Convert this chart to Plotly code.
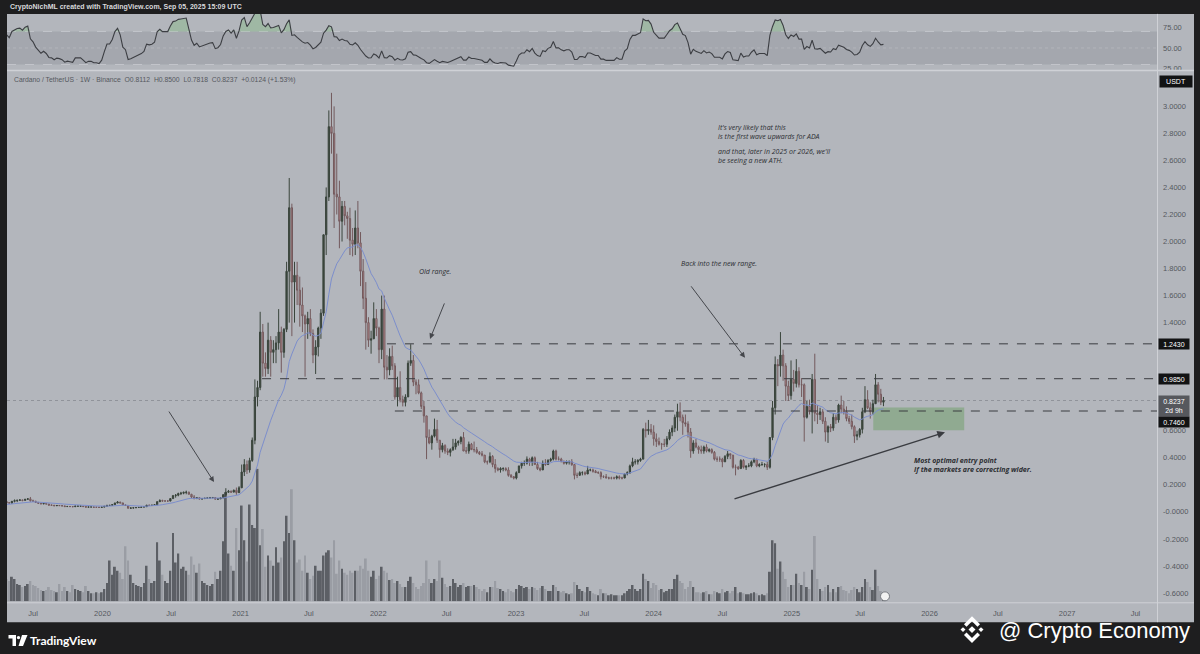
import numpy as np
import pandas as pd
import plotly.graph_objects as go

W, H = 1200, 654
def px(x): return x / W
def py(y): return 1 - y / H

# ---------------- weekly ADA/USDT data ----------------
first_open = 0.0375
close_2018 = [0.0300, 0.0300, 0.0430, 0.0410, 0.0440]
high_2018 = [0.0385, 0.0310, 0.0460, 0.0480, 0.0470]
low_2018 = [0.0290, 0.0270, 0.0295, 0.0390, 0.0400]
vol_2018 = [22, 25, 28, 20, 18]

close_2019 = [0.041, 0.043, 0.041, 0.039, 0.041, 0.043, 0.044, 0.046, 0.049, 0.050, 0.060, 0.072,
              0.085, 0.080, 0.076, 0.068, 0.065, 0.078, 0.083, 0.086, 0.087, 0.085, 0.093, 0.096, 0.082,
              0.078, 0.070, 0.064, 0.059, 0.062, 0.058, 0.050, 0.049, 0.045, 0.047, 0.046, 0.044, 0.039, 0.040,
              0.039, 0.038, 0.042, 0.042, 0.042, 0.039, 0.035, 0.036, 0.036, 0.034, 0.034, 0.033, 0.035]
high_2019 = [0.048, 0.044, 0.044, 0.042, 0.042, 0.044, 0.050, 0.047, 0.050, 0.052, 0.062, 0.076,
             0.095, 0.092, 0.083, 0.078, 0.070, 0.080, 0.092, 0.088, 0.095, 0.090, 0.095, 0.100, 0.110,
             0.090, 0.082, 0.072, 0.066, 0.064, 0.066, 0.059, 0.053, 0.050, 0.049, 0.048, 0.049, 0.045, 0.041,
             0.042, 0.040, 0.046, 0.044, 0.045, 0.043, 0.040, 0.037, 0.038, 0.037, 0.036, 0.036, 0.036]
low_2019 = [0.039, 0.040, 0.040, 0.037, 0.036, 0.040, 0.042, 0.041, 0.043, 0.047, 0.049, 0.058,
            0.070, 0.078, 0.075, 0.062, 0.063, 0.060, 0.070, 0.072, 0.083, 0.078, 0.082, 0.090, 0.075,
            0.073, 0.066, 0.058, 0.058, 0.056, 0.056, 0.045, 0.047, 0.043, 0.044, 0.044, 0.042, 0.036, 0.037,
            0.037, 0.037, 0.036, 0.040, 0.041, 0.038, 0.033, 0.032, 0.035, 0.033, 0.031, 0.032, 0.032]
vol_2019 = [16, 14, 12, 14, 15, 14, 20, 16, 15, 14, 20, 30,
            36, 24, 18, 22, 20, 24, 22, 17, 16, 14, 15, 17, 20,
            16, 15, 13, 11, 10, 11, 14, 11, 10, 9, 17, 10, 14, 10,
            9, 16, 12, 11, 10, 9, 15, 10, 8, 8, 9, 8, 9]

close_2020 = [0.041, 0.048, 0.048, 0.053, 0.065, 0.072, 0.066, 0.051, 0.047, 0.027, 0.028, 0.030, 0.032,
              0.033, 0.035, 0.038, 0.049, 0.048, 0.049, 0.052, 0.075, 0.083, 0.080, 0.080, 0.080, 0.098,
              0.120, 0.123, 0.135, 0.138, 0.144, 0.145, 0.130, 0.110, 0.098, 0.104, 0.095, 0.098, 0.100,
              0.103, 0.105, 0.106, 0.094, 0.096, 0.103, 0.127, 0.145, 0.152, 0.146, 0.160, 0.142, 0.178]
high_2020 = [0.042, 0.050, 0.049, 0.056, 0.068, 0.080, 0.075, 0.067, 0.056, 0.048, 0.034, 0.032, 0.034,
             0.036, 0.038, 0.040, 0.052, 0.052, 0.051, 0.058, 0.078, 0.093, 0.090, 0.086, 0.084, 0.100,
             0.125, 0.132, 0.142, 0.148, 0.150, 0.157, 0.150, 0.133, 0.124, 0.109, 0.108, 0.100, 0.105,
             0.105, 0.110, 0.110, 0.107, 0.100, 0.108, 0.130, 0.175, 0.162, 0.158, 0.165, 0.180, 0.190]
low_2020 = [0.034, 0.040, 0.043, 0.046, 0.052, 0.064, 0.063, 0.050, 0.046, 0.023, 0.025, 0.027, 0.028,
            0.031, 0.032, 0.034, 0.037, 0.044, 0.044, 0.048, 0.050, 0.074, 0.077, 0.078, 0.076, 0.078,
            0.096, 0.105, 0.115, 0.124, 0.130, 0.130, 0.128, 0.100, 0.093, 0.095, 0.093, 0.090, 0.095,
            0.098, 0.098, 0.100, 0.090, 0.090, 0.095, 0.102, 0.114, 0.140, 0.140, 0.144, 0.126, 0.140]
vol_2020 = [12, 18, 40, 26, 34, 30, 28, 22, 54, 40, 26, 18, 16,
            15, 14, 18, 35, 22, 18, 20, 58, 40, 26, 20, 18, 30,
            67, 38, 47, 32, 34, 30, 26, 44, 36, 28, 37, 20, 18,
            16, 15, 17, 29, 22, 30, 59, 107, 47, 35, 30, 72, 50]

close_2021 = [0.295, 0.350, 0.310, 0.380, 0.530, 0.850, 0.920, 1.330, 1.100, 1.060, 1.270, 1.180, 1.200,
              1.250, 1.330, 1.180, 1.350, 1.780, 2.250, 1.700, 1.750, 1.640, 1.530, 1.450, 1.390, 1.430,
              1.320, 1.160, 1.220, 1.360, 1.470, 2.050, 2.330, 2.850, 2.800, 2.350, 2.330, 2.150, 2.260,
              2.190, 2.170, 2.010, 1.980, 2.100, 1.990, 1.780, 1.580, 1.400, 1.270, 1.280, 1.430, 1.360]
high_2021 = [0.350, 0.390, 0.380, 0.400, 0.550, 0.980, 0.970, 1.480, 1.390, 1.180, 1.400, 1.300, 1.270,
             1.300, 1.500, 1.370, 1.360, 1.850, 2.470, 2.280, 1.850, 1.850, 1.740, 1.660, 1.460, 1.480,
             1.500, 1.350, 1.270, 1.370, 1.500, 2.050, 2.400, 2.970, 3.100, 3.000, 2.650, 2.450, 2.300,
             2.300, 2.220, 2.250, 2.100, 2.230, 2.300, 2.070, 1.870, 1.700, 1.440, 1.340, 1.550, 1.500]
low_2021 = [0.176, 0.265, 0.280, 0.290, 0.370, 0.500, 0.780, 0.900, 1.000, 1.000, 1.020, 1.000, 1.100,
            1.100, 1.200, 1.030, 1.140, 1.330, 1.400, 1.300, 1.400, 1.530, 1.370, 1.330, 1.000, 1.280,
            1.300, 1.100, 1.020, 1.150, 1.280, 1.450, 1.900, 2.300, 2.650, 2.100, 2.200, 1.950, 2.000,
            2.120, 2.020, 1.900, 1.890, 1.900, 1.950, 1.670, 1.500, 1.200, 1.220, 1.170, 1.280, 1.300]
vol_2021 = [94, 60, 39, 95, 75, 72, 130, 55, 71, 34, 45, 40, 35,
            53, 38, 43, 59, 84, 67, 110, 60, 38, 41, 30, 45, 28,
            22, 25, 35, 30, 30, 45, 48, 50, 43, 60, 27, 40, 32,
            28, 26, 30, 28, 30, 30, 35, 32, 42, 30, 24, 30, 22]

close_2022 = [1.200, 1.500, 1.070, 1.050, 1.150, 1.080, 0.850, 0.920, 0.830, 0.810, 0.850, 1.100, 1.120,
              0.960, 0.940, 0.880, 0.780, 0.710, 0.550, 0.510, 0.560, 0.610, 0.530, 0.460, 0.490, 0.450,
              0.440, 0.460, 0.480, 0.510, 0.520, 0.550, 0.450, 0.450, 0.500, 0.460, 0.460, 0.440, 0.430,
              0.420, 0.370, 0.370, 0.410, 0.350, 0.320, 0.310, 0.320, 0.320, 0.310, 0.270, 0.260, 0.250]
high_2022 = [1.370, 1.600, 1.600, 1.160, 1.210, 1.230, 1.100, 1.000, 1.040, 0.860, 0.870, 1.120, 1.240,
             1.160, 0.980, 0.980, 0.890, 0.820, 0.710, 0.610, 0.570, 0.690, 0.680, 0.530, 0.510, 0.500,
             0.470, 0.470, 0.540, 0.540, 0.530, 0.560, 0.590, 0.480, 0.520, 0.510, 0.520, 0.480, 0.450,
             0.450, 0.420, 0.380, 0.440, 0.420, 0.390, 0.330, 0.330, 0.330, 0.330, 0.330, 0.280, 0.265]
low_2022 = [1.100, 1.130, 0.980, 0.980, 1.010, 1.050, 0.830, 0.780, 0.810, 0.780, 0.780, 0.850, 1.080,
            0.930, 0.870, 0.870, 0.760, 0.660, 0.390, 0.500, 0.460, 0.550, 0.510, 0.400, 0.440, 0.430,
            0.420, 0.410, 0.450, 0.460, 0.490, 0.500, 0.450, 0.430, 0.430, 0.460, 0.440, 0.430, 0.420,
            0.410, 0.360, 0.350, 0.360, 0.330, 0.290, 0.300, 0.290, 0.300, 0.300, 0.260, 0.250, 0.240]
vol_2022 = [25, 34, 30, 28, 21, 22, 18, 20, 17, 14, 14, 20, 24,
            18, 14, 12, 15, 18, 40, 22, 18, 22, 20, 40, 23, 17,
            14, 15, 22, 18, 14, 16, 18, 14, 15, 15, 16, 14, 12,
            10, 12, 9, 14, 14, 20, 13, 12, 10, 9, 12, 10, 9]

close_2023 = [0.290, 0.340, 0.360, 0.360, 0.390, 0.370, 0.400, 0.350, 0.320, 0.310, 0.360, 0.350, 0.380,
              0.390, 0.450, 0.390, 0.390, 0.370, 0.360, 0.370, 0.370, 0.350, 0.270, 0.270, 0.290, 0.290,
              0.280, 0.310, 0.310, 0.300, 0.290, 0.290, 0.260, 0.260, 0.250, 0.250, 0.250, 0.250, 0.260,
              0.250, 0.250, 0.280, 0.290, 0.340, 0.370, 0.370, 0.380, 0.390, 0.610, 0.600, 0.610, 0.590]
high_2023 = [0.300, 0.340, 0.370, 0.380, 0.410, 0.400, 0.410, 0.410, 0.370, 0.330, 0.380, 0.390, 0.390,
             0.400, 0.460, 0.460, 0.410, 0.400, 0.380, 0.380, 0.380, 0.390, 0.350, 0.290, 0.300, 0.300,
             0.300, 0.340, 0.320, 0.320, 0.310, 0.300, 0.300, 0.270, 0.280, 0.260, 0.260, 0.260, 0.270,
             0.270, 0.260, 0.280, 0.300, 0.350, 0.400, 0.390, 0.390, 0.400, 0.620, 0.660, 0.680, 0.650]
low_2023 = [0.240, 0.290, 0.320, 0.340, 0.350, 0.340, 0.340, 0.350, 0.310, 0.300, 0.310, 0.340, 0.350,
            0.370, 0.380, 0.380, 0.380, 0.370, 0.350, 0.350, 0.350, 0.340, 0.240, 0.250, 0.270, 0.270,
            0.270, 0.280, 0.300, 0.290, 0.290, 0.280, 0.240, 0.250, 0.250, 0.240, 0.240, 0.240, 0.240,
            0.240, 0.240, 0.250, 0.270, 0.280, 0.330, 0.350, 0.350, 0.370, 0.390, 0.550, 0.570, 0.570]
vol_2023 = [12, 16, 15, 13, 14, 12, 14, 13, 11, 13, 15, 12, 10,
            10, 16, 14, 10, 9, 10, 8, 7, 8, 19, 16, 12, 10,
            9, 14, 10, 8, 7, 6, 12, 8, 8, 6, 7, 6, 6,
            6, 6, 8, 10, 12, 16, 12, 10, 12, 27, 22, 20, 13]

close_2024 = [0.540, 0.520, 0.500, 0.500, 0.500, 0.540, 0.590, 0.620, 0.700, 0.740, 0.700, 0.660, 0.650,
              0.590, 0.450, 0.510, 0.480, 0.460, 0.450, 0.480, 0.450, 0.460, 0.440, 0.390, 0.390, 0.390,
              0.370, 0.410, 0.430, 0.420, 0.330, 0.330, 0.320, 0.380, 0.330, 0.340, 0.340, 0.370, 0.390, 0.340,
              0.350, 0.350, 0.350, 0.330, 0.550, 0.770, 1.090, 1.080, 1.160, 1.080, 0.930, 0.860, 0.980]
high_2024 = [0.640, 0.580, 0.550, 0.510, 0.540, 0.560, 0.610, 0.640, 0.720, 0.800, 0.810, 0.720, 0.720,
             0.670, 0.620, 0.530, 0.540, 0.490, 0.490, 0.490, 0.500, 0.470, 0.470, 0.450, 0.410, 0.410,
             0.400, 0.420, 0.450, 0.430, 0.420, 0.350, 0.340, 0.390, 0.390, 0.340, 0.360, 0.380, 0.400, 0.390,
             0.360, 0.370, 0.360, 0.370, 0.550, 0.820, 1.150, 1.130, 1.330, 1.200, 1.100, 0.970, 1.120]
low_2024 = [0.490, 0.480, 0.490, 0.460, 0.480, 0.480, 0.530, 0.560, 0.590, 0.600, 0.670, 0.570, 0.630,
            0.550, 0.400, 0.430, 0.470, 0.430, 0.430, 0.430, 0.440, 0.440, 0.430, 0.380, 0.370, 0.370,
            0.330, 0.370, 0.390, 0.390, 0.320, 0.270, 0.310, 0.320, 0.320, 0.310, 0.330, 0.330, 0.360, 0.330,
            0.330, 0.340, 0.330, 0.310, 0.320, 0.530, 0.720, 0.930, 1.000, 0.970, 0.820, 0.820, 0.830]
vol_2024 = [18, 16, 11, 12, 9, 10, 12, 12, 22, 26, 20, 18, 12,
            14, 20, 14, 9, 9, 8, 9, 10, 7, 7, 10, 9, 8,
            12, 9, 10, 8, 10, 14, 8, 9, 8, 7, 7, 8, 9, 8,
            6, 7, 6, 8, 29, 60, 57, 32, 39, 29, 22, 14, 16]

close_2025 = [0.950, 1.040, 0.940, 0.940, 0.700, 0.780, 0.740, 0.980, 0.730, 0.720, 0.740, 0.670, 0.590,
              0.630, 0.620, 0.700, 0.680, 0.790, 0.760, 0.740, 0.690, 0.670, 0.630, 0.560, 0.570, 0.610,
              0.740, 0.830, 0.770, 0.740, 0.800, 0.940, 0.870, 0.8112, 0.8237]
high_2025 = [1.050, 1.130, 1.070, 0.990, 0.950, 0.820, 0.830, 1.020, 1.170, 0.790, 0.770, 0.760, 0.700,
             0.640, 0.650, 0.730, 0.720, 0.800, 0.860, 0.820, 0.780, 0.710, 0.720, 0.640, 0.600, 0.620,
             0.770, 0.930, 0.900, 0.810, 0.830, 1.020, 0.960, 0.910, 0.8500]
low_2025 = [0.890, 0.920, 0.920, 0.850, 0.520, 0.690, 0.720, 0.580, 0.670, 0.650, 0.680, 0.650, 0.520,
            0.510, 0.590, 0.600, 0.650, 0.660, 0.730, 0.720, 0.670, 0.650, 0.610, 0.510, 0.530, 0.550,
            0.580, 0.730, 0.760, 0.690, 0.720, 0.800, 0.810, 0.790, 0.7818]
vol_2025 = [16, 27, 18, 16, 29, 14, 12, 31, 64, 22, 12, 10, 14,
            16, 9, 12, 9, 14, 15, 11, 10, 8, 11, 14, 12, 9,
            14, 22, 19, 14, 11, 31, 15, 10, 3]

time_tick_dates = ['2019-07-01', '2020-01-01', '2020-07-01', '2021-01-01', '2021-07-01', '2022-01-01',
                   '2022-07-01', '2023-01-01', '2023-07-01', '2024-01-01', '2024-07-01', '2025-01-01',
                   '2025-07-01', '2026-01-01', '2026-07-01', '2027-01-01', '2027-07-01']
time_tick_text = ['Jul', '2020', 'Jul', '2021', 'Jul', '2022', 'Jul', '2023', 'Jul', '2024', 'Jul',
                  '2025', 'Jul', '2026', 'Jul', '2027', 'Jul']
price_tick_vals = [3.0, 2.8, 2.6, 2.4, 2.2, 2.0, 1.8, 1.6, 1.4, 0.6, 0.4, 0.2, 0.0, -0.2, -0.4, -0.6]
price_tick_text = ['3.0000', '2.8000', '2.6000', '2.4000', '2.2000', '2.0000', '1.8000', '1.6000',
                   '1.4000', '0.6000', '0.4000', '0.2000', '-0.0000', '-0.2000', '-0.4000', '-0.6000']
rsi_tick_vals = [75, 50, 25]
rsi_tick_text = ['75.00', '50.00', '25.00']

levels = {'upper': 1.2430, 'mid': 0.9850, 'low': 0.7460, 'last': 0.8237}
entry_zone = (0.603, 0.772)

# ---------------- assemble ----------------
closes = close_2018 + close_2019 + close_2020 + close_2021 + close_2022 + close_2023 + close_2024 + close_2025
highs = high_2018 + high_2019 + high_2020 + high_2021 + high_2022 + high_2023 + high_2024 + high_2025
lows = low_2018 + low_2019 + low_2020 + low_2021 + low_2022 + low_2023 + low_2024 + low_2025
vols = vol_2018 + vol_2019 + vol_2020 + vol_2021 + vol_2022 + vol_2023 + vol_2024 + vol_2025
vols = [v * 100 for v in vols]  # millions of ADA
n = len(closes)
dates = pd.date_range(end='2025-09-01', periods=n, freq='W-MON')
opens = [first_open] + closes[:-1]

cs = pd.Series(closes)
ma20 = cs.ewm(span=20, adjust=False).mean()
d = cs.diff()
ag = d.clip(lower=0).ewm(alpha=1/14, adjust=False).mean()
al = (-d).clip(lower=0).ewm(alpha=1/14, adjust=False).mean()
rsi = 100 - 100 / (1 + ag / al)

vol_colors = ['#5c5f65' if c >= o else '#9a9da4' for o, c in zip(opens, closes)]

BG = '#b3b6bc'
DARK = '#1e1e1f'
TXT = '#55585e'
FONT = 'Liberation Sans'

fig = go.Figure()
fig.add_trace(go.Bar(x=dates, y=vols, marker=dict(color=vol_colors, line=dict(width=0)),
                     width=[7 * 24 * 3600 * 1000 * 0.7] * n, xaxis='x', yaxis='y', hoverinfo='skip'))
fig.add_trace(go.Candlestick(x=dates, open=opens, high=highs, low=lows, close=closes,
                             increasing=dict(line=dict(color='#3a453c', width=1), fillcolor='#3a453c'),
                             decreasing=dict(line=dict(color='#735a5d', width=1), fillcolor='#c28e92'),
                             whiskerwidth=0, xaxis='x', yaxis='y2'))
fig.add_trace(go.Scatter(x=dates, y=ma20, mode='lines', line=dict(color='#7c8ecc', width=1),
                         xaxis='x', yaxis='y2', hoverinfo='skip'))
# RSI
fig.add_trace(go.Scatter(x=dates, y=[70] * n, mode='lines', line=dict(width=0), xaxis='x', yaxis='y3',
                         hoverinfo='skip'))
fig.add_trace(go.Scatter(x=dates, y=np.maximum(rsi, 70), mode='lines', line=dict(width=0), fill='tonexty',
                         fillcolor='rgba(130,188,130,0.42)', xaxis='x', yaxis='y3', hoverinfo='skip'))
fig.add_trace(go.Scatter(x=dates, y=rsi, mode='lines', line=dict(color='#3c3e43', width=1.1),
                         xaxis='x', yaxis='y3'))

def poly(pts):
    return 'M ' + ' L '.join(f'{px(x):.5f},{py(y):.5f}' for x, y in pts) + ' Z'

x_end = '2027-08-27'
shapes = [
    dict(type='rect', xref='paper', yref='paper', x0=px(7), x1=px(1194), y0=py(626), y1=py(14),
         fillcolor=BG, line=dict(width=0), layer='below'),
    dict(type='rect', xref='paper', yref='y3', x0=px(7), x1=px(1157), y0=30, y1=70,
         fillcolor='rgba(105,108,118,0.20)', line=dict(width=0), layer='below'),
    dict(type='line', xref='paper', yref='y3', x0=px(7), x1=px(1157), y0=70, y1=70,
         line=dict(color='rgba(205,207,212,0.7)', width=1, dash='dash'), layer='below'),
    dict(type='line', xref='paper', yref='y3', x0=px(7), x1=px(1157), y0=30, y1=30,
         line=dict(color='rgba(205,207,212,0.7)', width=1, dash='dash'), layer='below'),
    dict(type='line', xref='paper', yref='y3', x0=px(7), x1=px(1157), y0=50, y1=50,
         line=dict(color='rgba(205,207,212,0.35)', width=1, dash='dot'), layer='below'),
    dict(type='line', xref='paper', yref='paper', x0=px(1157.5), x1=px(1157.5), y0=py(626), y1=py(14),
         line=dict(color='#cfd1d6', width=1)),
    dict(type='line', xref='paper', yref='paper', x0=px(7), x1=px(1194), y0=py(71), y1=py(71),
         line=dict(color='#cfd1d6', width=1.5)),
    dict(type='line', xref='paper', yref='paper', x0=px(7), x1=px(1194), y0=py(606.5), y1=py(606.5),
         line=dict(color='#cfd1d6', width=1)),
    # entry zone
    dict(type='rect', xref='x', yref='y2', x0='2025-08-05', x1='2026-04-03', y0=entry_zone[0], y1=entry_zone[1],
         fillcolor='rgba(138,168,138,0.85)', line=dict(width=0), layer='below'),
    # horizontal levels
    dict(type='line', xref='x', yref='y2', x0='2019-04-23', x1=x_end, y0=levels['last'], y1=levels['last'],
         line=dict(color='rgba(140,143,150,0.9)', width=1, dash='dot'), layer='below'),
    dict(type='line', xref='x', yref='y2', x0='2022-01-24', x1=x_end, y0=levels['upper'], y1=levels['upper'],
         line=dict(color='#3a3c40', width=1, dash='dash')),
    dict(type='line', xref='x', yref='y2', x0='2021-02-27', x1=x_end, y0=levels['mid'], y1=levels['mid'],
         line=dict(color='#3a3c40', width=1, dash='dash')),
    dict(type='line', xref='x', yref='y2', x0='2022-02-14', x1=x_end, y0=levels['low'], y1=levels['low'],
         line=dict(color='#3a3c40', width=1, dash='dash')),
    # small event icon
    dict(type='circle', xref='paper', yref='paper', x0=px(880.5), x1=px(889.5), y0=py(604.5), y1=py(595.5),
         fillcolor='#f2f2f2', line=dict(color='#777a80', width=1)),
]
# Binance-like logo
cx, cy = 972, 633.5
logo_polys = [
    [(cx, cy - 3.5), (cx + 3.5, cy), (cx, cy + 3.5), (cx - 3.5, cy)],
    [(cx - 9, cy - 2.5), (cx - 6.5, cy), (cx - 9, cy + 2.5), (cx - 11.5, cy)],
    [(cx + 9, cy - 2.5), (cx + 11.5, cy), (cx + 9, cy + 2.5), (cx + 6.5, cy)],
    [(cx - 8, cy - 5.5), (cx, cy - 13.5), (cx + 8, cy - 5.5), (cx + 5.5, cy - 3), (cx, cy - 8.5), (cx - 5.5, cy - 3)],
    [(cx - 8, cy + 5.5), (cx, cy + 13.5), (cx + 8, cy + 5.5), (cx + 5.5, cy + 3), (cx, cy + 8.5), (cx - 5.5, cy + 3)],
]
for p in logo_polys:
    shapes.append(dict(type='path', xref='paper', yref='paper', path=poly(p), fillcolor='white', line=dict(width=0)))
# TradingView-like logo
tv_polys = [
    [(8.5, 639), (16, 639), (16, 650), (12.5, 650), (12.5, 642.5), (8.5, 642.5)],
    [(22, 639), (27.5, 639), (23, 650), (18.5, 650)],
]
for p in tv_polys:
    shapes.append(dict(type='path', xref='paper', yref='paper', path=poly(p), fillcolor='white', line=dict(width=0)))
shapes.append(dict(type='circle', xref='paper', yref='paper', x0=px(16.8), x1=px(20.2), y0=py(643.2), y1=py(639.8),
                   fillcolor='white', line=dict(width=0)))

ann = []
def text(x, y, s, size=7, color='#2c2e32', italic=False, bold=False, family=FONT, xanchor='left', yanchor='middle'):
    ann.append(dict(xref='paper', yref='paper', x=px(x), y=py(y), text=s, showarrow=False,
                    xanchor=xanchor, yanchor=yanchor, align='left',
                    font=dict(size=size, color=color, family=family,
                              style='italic' if italic else 'normal', weight='bold' if bold else 'normal')))

def arrow(x0, y0, x1, y1, width=1, color='#45474c'):
    ann.append(dict(xref='paper', yref='paper', axref='pixel', ayref='pixel', x=px(x1), y=py(y1),
                    ax=x0 - x1, ay=y0 - y1, text='', showarrow=True, arrowhead=2, arrowsize=1.1,
                    arrowwidth=width, arrowcolor=color, standoff=0, startstandoff=0))

text(8, 7, 'CryptoNichML created with TradingView.com, Sep 05, 2025 15:09 UTC', size=7, color='#d8d9dc', bold=True)
text(12, 80.5, 'Cardano / TetherUS · 1W · Binance  O0.8112  H0.8500  L0.7818  C0.8237  +0.0124 (+1.53%)',
     size=6.8, color='#55585e')
text(716, 132.5, "It's very likely that this<br>is the first wave upwards for ADA", size=7, italic=True, family='Open Sans')
text(716, 156.5, "and that, later in 2025 or 2026, we'll<br>be seeing a new ATH.", size=7, italic=True, family='Open Sans')
text(417, 273, 'Old range.', size=7, italic=True, family='Open Sans')
text(679, 265, 'Back into the new range.', size=7, italic=True, family='Open Sans')
text(912, 468, 'Most optimal entry point<br>If the markets are correcting wider.', size=7, italic=True,
     family='Open Sans', bold=True)

arrow(168, 413, 214, 485)
arrow(445, 304, 430, 341)
arrow(690, 287, 745, 360)
arrow(733, 502, 945, 435, width=1.4, color='#3a3c41')

# right-axis price tags
def tag(yval, s, bg, yshift=0, h=10, yanchor='middle'):
    ann.append(dict(xref='paper', yref='y2', x=px(1158), y=yval, xanchor='left', yanchor=yanchor, yshift=yshift,
                    text=s, showarrow=False, bgcolor=bg, width=30, height=h, align='center', borderpad=0,
                    font=dict(size=7, color='white', family=FONT)))
tag(levels['upper'], '1.2430', '#121314')
tag(levels['mid'], '0.9850', '#121314')
tag(levels['last'], '0.8237<br>2d 9h', '#56585d', yshift=6, h=20, yanchor='top')
tag(levels['low'], '0.7460', '#121314', yshift=-4.5, yanchor='top')
ann.append(dict(xref='paper', yref='paper', x=px(1159), y=py(81.5), xanchor='left', yanchor='middle',
                text='USDT', showarrow=False, bgcolor='#121314', width=32, height=11, borderpad=0,
                font=dict(size=7, color='white', family=FONT)))

text(1192, 634.5, '@ Crypto Economy', size=22, color='white', family='Liberation Sans', xanchor='right')
text(28, 644.5, 'TradingView', size=12, color='white', bold=True, family='Lato')

tickfont = dict(size=7.5, color=TXT, family=FONT)
fig.update_layout(
    width=W, height=H, margin=dict(l=0, r=0, t=0, b=0),
    paper_bgcolor=DARK, plot_bgcolor='rgba(0,0,0,0)', showlegend=False,
    xaxis=dict(domain=[px(7), px(1157)], type='date', range=['2019-04-23', x_end], anchor='y',
               tickmode='array', tickvals=time_tick_dates, ticktext=time_tick_text, tickfont=tickfont,
               showgrid=False, zeroline=False, showline=False, ticks='', ticklabelstandoff=6,
               rangeslider=dict(visible=False), fixedrange=True),
    yaxis=dict(domain=[py(605), py(72)], range=[0, max(vols) / 0.25], visible=False, fixedrange=True),
    yaxis2=dict(overlaying='y', anchor='x', side='right', range=[-0.6618, 3.2574], tickmode='array',
                tickvals=price_tick_vals, ticktext=price_tick_text, tickfont=tickfont, showgrid=False,
                zeroline=False, showline=False, ticks='', ticklabelstandoff=5, fixedrange=True),
    yaxis3=dict(domain=[py(70), py(14)], anchor='x', side='right', range=[23.9, 91.2], tickmode='array',
                tickvals=rsi_tick_vals, ticktext=rsi_tick_text, tickfont=tickfont, showgrid=False,
                zeroline=False, showline=False, ticks='', ticklabelstandoff=5, fixedrange=True),
    shapes=shapes, annotations=ann,
)
fig.write_html('out.html', config={'displayModeBar': False},
               post_script="document.body.style.margin='0px';document.body.style.padding='0px';"
                           "document.body.style.overflow='hidden';")
